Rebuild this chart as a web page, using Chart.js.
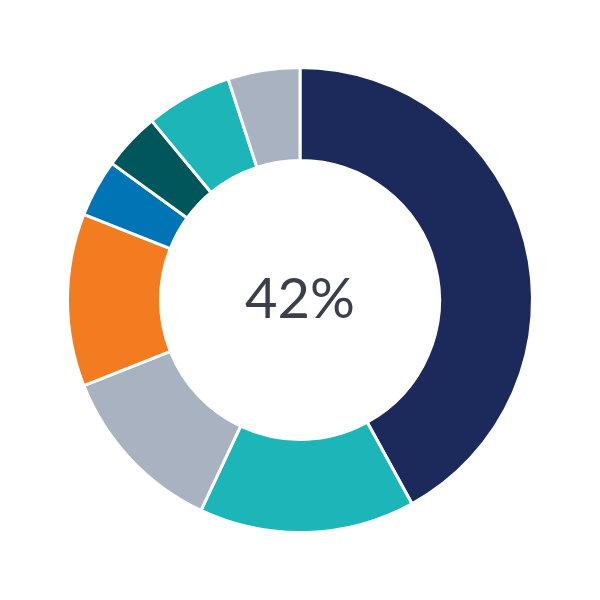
<!DOCTYPE html>
<html>
<head>
<meta charset="utf-8">
<script src="https://cdn.jsdelivr.net/npm/chart.js@4"></script>
<style>
  html, body { margin: 0; padding: 0; background: #fff; }
  #wrap { width: 600px; height: 600px; }
</style>
</head>
<body>
<div id="wrap"><canvas id="donut"></canvas></div>
<script>
const labels = ['A', 'B', 'C', 'D', 'E', 'F', 'G', 'H'];
const values = [42, 15, 12, 12, 4, 4, 6, 5];
const colors = ['#1b2a5b', '#1cb5b8', '#a8b2c1', '#f37c20', '#0074b5', '#00565a', '#1cb5b8', '#a8b2c1'];
const centerText = '42%';

// draw the big number in the hole
const centerLabel = {
  id: 'centerLabel',
  afterDraw(chart) {
    const { ctx, chartArea } = chart;
    const x = (chartArea.left + chartArea.right) / 2;
    const y = (chartArea.top + chartArea.bottom) / 2;
    ctx.save();
    ctx.font = '400 56px Lato, "Open Sans", sans-serif';
    ctx.fillStyle = '#3a3f4a';
    ctx.textAlign = 'center';
    ctx.textBaseline = 'middle';
    ctx.fillText(centerText, x, y);
    ctx.restore();
  }
};

const ctx = document.getElementById('donut').getContext('2d');
new Chart(ctx, {
  type: 'doughnut',
  data: {
    labels: labels,
    datasets: [{
      data: values,
      backgroundColor: colors,
      borderColor: '#ffffff',
      borderWidth: 3
    }]
  },
  options: {
    responsive: true,
    maintainAspectRatio: false,
    animation: false,
    cutout: '60%',
    layout: { padding: 66 },
    plugins: {
      legend: { display: false },
      tooltip: { enabled: false }
    }
  },
  plugins: [centerLabel]
});
</script>
</body>
</html>
